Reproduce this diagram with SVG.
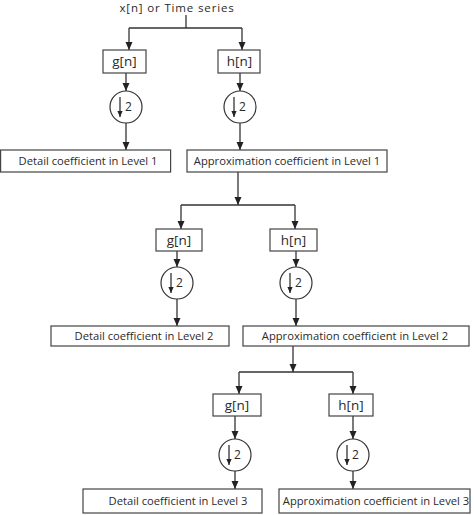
<svg xmlns="http://www.w3.org/2000/svg" width="474" height="515" viewBox="0 0 474 515">
<style>
.box{fill:#fff;stroke:#444;stroke-width:1.2}
.c{fill:#fff;stroke:#333;stroke-width:1.2}
.ln{stroke:#333;stroke-width:1.3;fill:none}
.lna{stroke:#333;stroke-width:1.3;fill:none;marker-end:url(#ah)}
.t{font-family:"Open Sans","Noto Sans",sans-serif;font-size:11.2px;fill:#2a2a2a;text-anchor:middle}
.f{font-family:"Open Sans","Noto Sans",sans-serif;font-size:13.5px;fill:#2a2a2a;text-anchor:middle}
.ttl{font-family:"Open Sans","Noto Sans",sans-serif;font-size:11.5px;letter-spacing:0.85px;fill:#2a2a2a;text-anchor:middle}
.two{font-family:"Open Sans","Noto Sans",sans-serif;font-size:12px;fill:#2a2a2a}
</style>
<defs>
<marker id="ah" viewBox="0 0 8 8" refX="8" refY="4" markerWidth="8" markerHeight="8" markerUnits="userSpaceOnUse" orient="auto">
<path d="M0,0.5 L8,4 L0,7.5 Z" fill="#222"/>
</marker>
<marker id="sa" viewBox="0 0 8 8" refX="8" refY="4" markerWidth="6" markerHeight="6" markerUnits="userSpaceOnUse" orient="auto">
<path d="M0,0.5 L8,4 L0,7.5 Z" fill="#222"/>
</marker>
</defs>

<g id="connectors">
<line class="ln" x1="186" y1="15" x2="186" y2="28"/>
<line class="ln" x1="129" y1="28" x2="242" y2="28"/>
<line class="lna" x1="129" y1="28" x2="129" y2="50"/>
<line class="lna" x1="242" y1="28" x2="242" y2="50"/>
<line class="lna" x1="126" y1="73" x2="126" y2="91"/>
<line class="lna" x1="240" y1="73" x2="240" y2="91"/>
<line class="lna" x1="126" y1="123" x2="126" y2="150"/>
<line class="lna" x1="240" y1="123" x2="240" y2="150"/>

<line class="lna" x1="238" y1="172" x2="238" y2="205"/>
<line class="ln" x1="181" y1="205" x2="295" y2="205"/>
<line class="lna" x1="181" y1="205" x2="181" y2="229"/>
<line class="lna" x1="295" y1="205" x2="295" y2="229"/>
<line class="lna" x1="177" y1="251" x2="177" y2="267"/>
<line class="lna" x1="296" y1="251" x2="296" y2="267"/>
<line class="lna" x1="177" y1="299" x2="177" y2="326"/>
<line class="lna" x1="296" y1="299" x2="296" y2="326"/>

<line class="lna" x1="293" y1="346" x2="293" y2="372"/>
<line class="ln" x1="239" y1="372" x2="353" y2="372"/>
<line class="lna" x1="239" y1="372" x2="239" y2="394"/>
<line class="lna" x1="353" y1="372" x2="353" y2="394"/>
<line class="lna" x1="235" y1="416" x2="235" y2="439"/>
<line class="lna" x1="353" y1="416" x2="353" y2="439"/>
<line class="lna" x1="235" y1="471" x2="235" y2="489"/>
<line class="lna" x1="353" y1="471" x2="353" y2="489"/>
</g>

<g id="input"><text class="ttl" x="177" y="11.5">x[n] or Time series</text></g>

<g id="g1"><rect class="box" x="103" y="50" width="43" height="23"/><text class="f" x="124.5" y="66">g[n]</text></g>
<g id="h1"><rect class="box" x="218" y="50" width="42" height="23"/><text class="f" x="239.5" y="66">h[n]</text></g>
<g id="d1"><circle class="c" cx="126" cy="107" r="16"/><line class="ln" x1="120" y1="97" x2="120" y2="117" style="marker-end:url(#sa)"/><text class="two" x="125" y="111">2</text></g>
<g id="a1"><circle class="c" cx="240" cy="107" r="16"/><line class="ln" x1="234" y1="97" x2="234" y2="117" style="marker-end:url(#sa)"/><text class="two" x="239" y="111">2</text></g>
<g id="detail1"><rect class="box" x="0.6" y="150" width="170" height="22"/><text class="t" x="88" y="165">Detail coefficient in Level 1</text></g>
<g id="approx1"><rect class="box" x="187" y="150" width="200" height="22"/><text class="t" x="287" y="165">Approximation coefficient in Level 1</text></g>

<g id="g2"><rect class="box" x="156" y="229" width="46" height="22"/><text class="f" x="179" y="245">g[n]</text></g>
<g id="h2"><rect class="box" x="270" y="229" width="47" height="22"/><text class="f" x="293.5" y="245">h[n]</text></g>
<g id="d2"><circle class="c" cx="177" cy="283" r="16"/><line class="ln" x1="171" y1="273" x2="171" y2="293" style="marker-end:url(#sa)"/><text class="two" x="176" y="287">2</text></g>
<g id="a2"><circle class="c" cx="296" cy="283" r="16"/><line class="ln" x1="290" y1="273" x2="290" y2="293" style="marker-end:url(#sa)"/><text class="two" x="295" y="287">2</text></g>
<g id="detail2"><rect class="box" x="51" y="326" width="178" height="20"/><text class="t" x="144" y="340">Detail coefficient in Level 2</text></g>
<g id="approx2"><rect class="box" x="243" y="326" width="226" height="20"/><text class="t" x="355" y="340">Approximation coefficient in Level 2</text></g>

<g id="g3"><rect class="box" x="213" y="394" width="48" height="22"/><text class="f" x="237" y="410">g[n]</text></g>
<g id="h3"><rect class="box" x="329" y="394" width="44" height="22"/><text class="f" x="351" y="410">h[n]</text></g>
<g id="d3"><circle class="c" cx="235" cy="455" r="16"/><line class="ln" x1="229" y1="445" x2="229" y2="465" style="marker-end:url(#sa)"/><text class="two" x="234" y="459">2</text></g>
<g id="a3"><circle class="c" cx="353" cy="455" r="16"/><line class="ln" x1="347" y1="445" x2="347" y2="465" style="marker-end:url(#sa)"/><text class="two" x="352" y="459">2</text></g>
<g id="detail3"><rect class="box" x="83" y="489" width="179" height="24"/><text class="t" x="178" y="505">Detail coefficient in Level 3</text></g>
<g id="approx3"><rect class="box" x="279" y="489" width="191" height="24"/><text class="t" x="376" y="505">Approximation coefficient in Level 3</text></g>
</svg>
